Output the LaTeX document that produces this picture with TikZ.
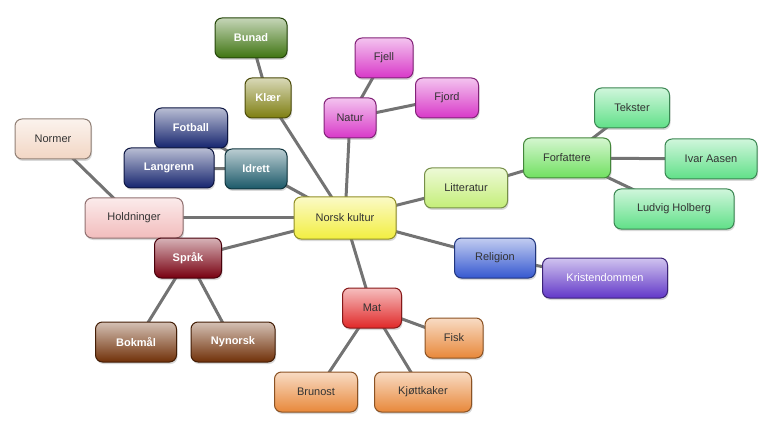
\documentclass[tikz,border=0pt]{standalone}
\usepackage{fontspec}
\setmainfont{Liberation Sans}
\usetikzlibrary{backgrounds,shadows}
\definecolor{cYel}{HTML}{F2EE40}
\definecolor{cMag}{HTML}{D838C8}
\definecolor{cOli}{HTML}{7E7E10}
\definecolor{cGrn}{HTML}{3E7410}
\definecolor{cTea}{HTML}{1A5868}
\definecolor{cNav}{HTML}{15246E}
\definecolor{cPea}{HTML}{F2D6C4}
\definecolor{cPnk}{HTML}{F2BCBC}
\definecolor{cDrd}{HTML}{780010}
\definecolor{cBrn}{HTML}{703008}
\definecolor{cRed}{HTML}{E02828}
\definecolor{cOra}{HTML}{E8883A}
\definecolor{cBlu}{HTML}{3558D0}
\definecolor{cPur}{HTML}{6238C8}
\definecolor{cLgr}{HTML}{C4EE78}
\definecolor{cGr2}{HTML}{70E060}
\definecolor{cGr3}{HTML}{60E088}
\tikzset{
 box/.style={rounded corners=7pt,minimum height=40pt,inner sep=2pt,
   top color=#1!30!white,bottom color=#1,draw=#1!60!black,line width=1pt,
   font=\fontsize{11}{13}\selectfont,text=black!80,
   drop shadow={shadow xshift=1pt,shadow yshift=-2pt,opacity=0.3}},
 dark/.style={box=#1,text=white,font=\fontsize{11}{13}\selectfont\bfseries},
 edge/.style={draw=black!55,line width=3pt}
}
\begin{document}
\begin{tikzpicture}[x=1pt,y=-1pt]
\useasboundingbox (0,0) rectangle (769,425);
\node[box=cYel,minimum width=102pt,minimum height=42pt] (nk) at (345,218) {Norsk kultur};
\node[box=cMag,minimum width=52pt] (natur) at (350,118) {Natur};
\node[box=cMag,minimum width=58pt] (fjell) at (384,58) {Fjell};
\node[box=cMag,minimum width=63pt] (fjord) at (447,98) {Fjord};
\node[dark=cOli,minimum width=46pt] (klaer) at (268,98) {Klær};
\node[dark=cGrn,minimum width=72pt] (bunad) at (251,38) {Bunad};
\node[dark=cTea,minimum width=62pt] (idrett) at (256,169) {Idrett};
\node[dark=cNav,minimum width=73pt] (fotball) at (191,128) {Fotball};
\node[dark=cNav,minimum width=90pt] (langrenn) at (169,168) {Langrenn};
\node[box=cPea,minimum width=76pt] (normer) at (53,139) {Normer};
\node[box=cPnk,minimum width=98pt] (hold) at (134,218) {Holdninger};
\node[dark=cDrd,minimum width=67pt] (sprak) at (188,258) {Språk};
\node[dark=cBrn,minimum width=81pt] (bokmal) at (136,342) {Bokmål};
\node[dark=cBrn,minimum width=84pt] (nynorsk) at (233,342) {Nynorsk};
\node[box=cRed,minimum width=59pt] (mat) at (372,308) {Mat};
\node[box=cOra,minimum width=58pt] (fisk) at (454,338) {Fisk};
\node[box=cOra,minimum width=83pt] (brunost) at (316,392) {Brunost};
\node[box=cOra,minimum width=97pt] (kjott) at (423,392) {Kjøttkaker};
\node[box=cBlu,minimum width=81pt] (rel) at (495,258) {Religion};
\node[box=cPur,minimum width=125pt,text=white] (krist) at (605,278) {Kristendommen};
\node[box=cLgr,minimum width=83pt] (litt) at (466,188) {Litteratur};
\node[box=cGr2,minimum width=87pt] (forf) at (567,158) {Forfattere};
\node[box=cGr3,minimum width=75pt] (tekst) at (632,108) {Tekster};
\node[box=cGr3,minimum width=92pt] (ivar) at (711,159) {Ivar Aasen};
\node[box=cGr3,minimum width=120pt] (ludvig) at (674,209) {Ludvig Holberg};
\begin{scope}[on background layer]
\foreach \a/\b in {nk/natur,natur/fjell,natur/fjord,nk/klaer,klaer/bunad,nk/idrett,idrett/fotball,idrett/langrenn,nk/hold,hold/normer,nk/sprak,sprak/bokmal,sprak/nynorsk,nk/mat,mat/fisk,mat/brunost,mat/kjott,nk/rel,rel/krist,nk/litt,litt/forf,forf/tekst,forf/ivar,forf/ludvig}
  \draw[edge] (\a.center) -- (\b.center);
\end{scope}
\end{tikzpicture}
\end{document}
